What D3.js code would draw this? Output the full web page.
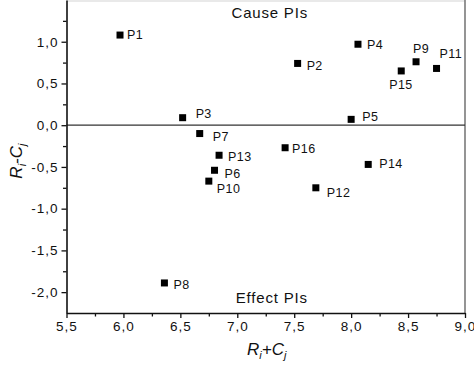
<!DOCTYPE html>
<html>
<head>
<meta charset="utf-8">
<script src="https://cdn.jsdelivr.net/npm/d3@7"></script>
<style>
  body { margin: 0; background: #fff; }
  text { font-family: "Liberation Sans", Arial, sans-serif; fill: #111; }
</style>
</head>
<body>
<div id="chart"></div>
<script>
// data
const names = ["P1","P2","P3","P4","P5","P6","P7","P8","P9","P10","P11","P12","P13","P14","P15","P16"];
const sumRC = [5.97,7.53,6.52,8.06,8.00,6.80,6.67,6.36,8.57,6.75,8.75,7.69,6.84,8.15,8.44,7.42];
const diffRC = [1.08,0.74,0.09,0.97,0.07,-0.54,-0.10,-1.89,0.76,-0.67,0.68,-0.75,-0.36,-0.47,0.65,-0.27];
const xTicks = [5.5,6.0,6.5,7.0,7.5,8.0,8.5,9.0];
const yTicks = [-2.0,-1.5,-1.0,-0.5,0.0,0.5,1.0];
const xMinor = [5.75,6.25,6.75,7.25,7.75,8.25,8.75];
const yMinor = [-1.75,-1.25,-0.75,-0.25,0.25,0.75,1.25];

// where each label sits next to its square
const labelOffset = {
  P1:[7,4.3], P2:[9,6.6], P3:[13,0.3], P4:[9,4.3], P5:[11,1.7], P6:[10,7.3],
  P7:[13,7.3], P8:[9,6.3], P9:[-3,-8.7], P10:[8,12], P11:[3,-10.4], P12:[11,9.3],
  P13:[9,6], P14:[11,3.6], P15:[-12,18], P16:[7,5.6]
};

const W = 474, H = 365;
const margin = {top:0, right:9, bottom:52, left:66.5};
const width = W - margin.left - margin.right;
const height = H - margin.top - margin.bottom;

const loc = d3.formatLocale({decimal:",", thousands:".", grouping:[3], currency:["",""], minus:"-"});
const fmt = loc.format(".1f");

const xScale = d3.scaleLinear().domain([5.5,9.0]).range([0,width]);
const yScale = d3.scaleLinear().domain([-2.25,1.5]).range([height,0]);

const svg = d3.select("#chart").append("svg")
  .attr("width",W).attr("height",H)
  .append("g")
  .attr("transform",`translate(${margin.left},${margin.top})`);

// frame: light top, grey right
svg.append("line").attr("x1",0).attr("x2",width).attr("y1",1).attr("y2",1)
  .attr("stroke","#e2e2e2").attr("stroke-width",1.5);
svg.append("line").attr("x1",width).attr("x2",width).attr("y1",0).attr("y2",height)
  .attr("stroke","#7a7a7a").attr("stroke-width",1.6);

// zero line
svg.append("line")
  .attr("x1",0).attr("x2",width)
  .attr("y1",yScale(0)).attr("y2",yScale(0))
  .attr("stroke","#333").attr("stroke-width",1.3);

// minor ticks
svg.append("g")
  .attr("transform",`translate(0,${height})`)
  .call(d3.axisBottom(xScale).tickValues(xMinor).tickSize(3.5).tickFormat(""))
  .call(g => g.select(".domain").remove());
svg.append("g")
  .call(d3.axisLeft(yScale).tickValues(yMinor).tickSize(3.5).tickFormat(""))
  .call(g => g.select(".domain").remove());

const xAxis = svg.append("g")
  .attr("transform",`translate(0,${height})`)
  .call(d3.axisBottom(xScale).tickValues(xTicks).tickSize(5).tickSizeOuter(0).tickPadding(3).tickFormat(fmt));
const yAxis = svg.append("g")
  .call(d3.axisLeft(yScale).tickValues(yTicks).tickSize(5).tickSizeOuter(0).tickPadding(3).tickFormat(fmt));

[xAxis,yAxis].forEach(a => {
  a.select(".domain").attr("stroke","#111").attr("stroke-width",1.6);
  a.selectAll(".tick line").attr("stroke","#111").attr("stroke-width",1.3);
  a.selectAll(".tick text")
    .attr("font-family","'Liberation Sans', Arial, sans-serif")
    .attr("font-size",13.5).attr("letter-spacing",1).attr("fill","#111");
});
svg.selectAll("g.tick line").attr("stroke","#111").attr("stroke-width",1.3);

// points
const pts = names.map((n,i) => ({name:n, x:sumRC[i], y:diffRC[i]}));
const sz = 7;
svg.selectAll("rect.pt").data(pts).enter().append("rect")
  .attr("class","pt")
  .attr("x",d => xScale(d.x) - sz/2)
  .attr("y",d => yScale(d.y) - sz/2)
  .attr("width",sz).attr("height",sz)
  .attr("fill","#000");

svg.selectAll("text.lbl").data(pts).enter().append("text")
  .attr("class","lbl")
  .attr("x",d => xScale(d.x) + labelOffset[d.name][0])
  .attr("y",d => yScale(d.y) + labelOffset[d.name][1])
  .attr("font-size",12.5)
  .attr("letter-spacing",0.4)
  .text(d => d.name);

// region captions
svg.append("text")
  .attr("x",width/2 + 4).attr("y",17.7)
  .attr("text-anchor","middle").attr("font-size",15).attr("letter-spacing",0.8)
  .text("Cause PIs");
svg.append("text")
  .attr("x",width/2 + 6).attr("y",302.7)
  .attr("text-anchor","middle").attr("font-size",15).attr("letter-spacing",0.8)
  .text("Effect PIs");

// axis titles
const xt = svg.append("text")
  .attr("x",width/2 + 1).attr("y",355)
  .attr("text-anchor","middle").attr("font-size",17).attr("font-style","italic");
xt.append("tspan").text("R");
xt.append("tspan").attr("font-size",11).attr("dy",4).text("i");
xt.append("tspan").attr("dy",-4).text("+C");
xt.append("tspan").attr("font-size",11).attr("dy",4).text("j");

const yt = svg.append("text")
  .attr("transform",`translate(${-margin.left + 22},${yScale(-0.43)})rotate(-90)`)
  .attr("text-anchor","middle").attr("font-size",17).attr("font-style","italic");
yt.append("tspan").text("R");
yt.append("tspan").attr("font-size",11).attr("dy",4).text("i");
yt.append("tspan").attr("dy",-4).text("-C");
yt.append("tspan").attr("font-size",11).attr("dy",4).text("j");
</script>
</body>
</html>
